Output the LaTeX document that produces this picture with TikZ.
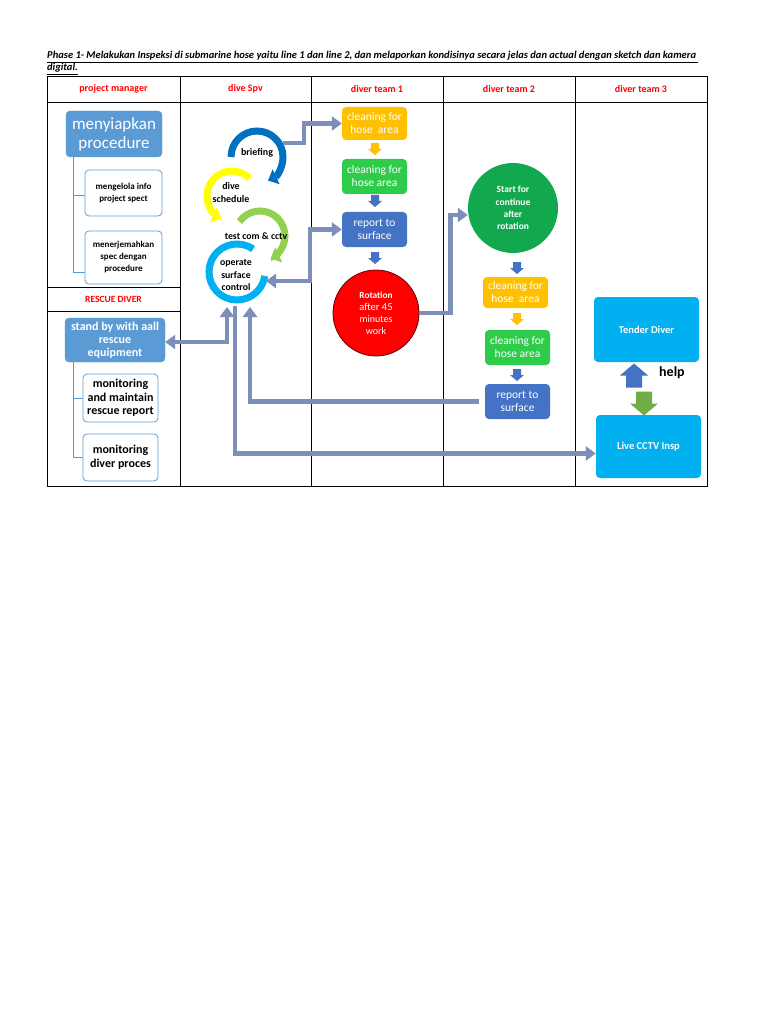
\documentclass[tikz,border=0pt]{standalone}
\usepackage{fontspec}
\setmainfont{Carlito}
\usetikzlibrary{arrows.meta}
\definecolor{connC}{HTML}{7D8FB8}
\definecolor{smartBlue}{HTML}{5B9BD5}
\definecolor{boxOrange}{HTML}{FFC000}
\definecolor{boxGreen}{HTML}{2ECC4A}
\definecolor{boxBlue}{HTML}{4472C4}
\definecolor{circRed}{HTML}{FF0000}
\definecolor{circGreen}{HTML}{12A84E}
\definecolor{cyanBox}{HTML}{00B0F0}
\definecolor{arcBlue}{HTML}{0070C0}
\definecolor{arcYellow}{HTML}{FFFF00}
\definecolor{arcGreen}{HTML}{92D050}
\definecolor{arrGreen}{HTML}{70AD47}
\definecolor{headRed}{HTML}{FF0000}
\begin{document}
\begin{tikzpicture}[x=1pt,y=-1pt,
  tbl/.style={draw=black,line width=0.9pt},
  hdr/.style={text=headRed,font=\fontsize{10}{12}\selectfont\bfseries},
  rbox/.style={rounded corners=4pt,align=center,inner sep=1pt},
  mainbox/.style={rbox,fill=smartBlue,draw=smartBlue,text=white},
  subbox/.style={rbox,fill=white,draw=smartBlue,line width=0.8pt,text=black},
  flowbox/.style={rbox,text=white,minimum width=65pt,font=\fontsize{11.5}{13}\selectfont},
  bigbox/.style={rbox,fill=cyanBox,text=white,minimum width=105pt,font=\fontsize{10.5}{12}\selectfont\bfseries},
  tree/.style={draw=smartBlue,line width=0.8pt},
  ring/.style={line width=7pt},
  ringtip/.style={-{Triangle[width=16pt,length=9pt]}},
  conn/.style={draw=connC,line width=4.5pt},
  ctip/.style={-{Triangle[width=14pt,length=10pt]}},
  ctip2/.style={{Triangle[width=14pt,length=10pt]}-{Triangle[width=14pt,length=10pt]}},
  lbl/.style={align=center,inner sep=0pt},
  pics/downarrow/.style={code={\fill[#1] (-4,-6) -- (4,-6) -- (4,0) -- (7,0) -- (0,6) -- (-7,0) -- (-4,0) -- cycle;}}
]
\useasboundingbox[fill=white] (0,0) rectangle (768,1024);

% title
\node[anchor=west,inner sep=0pt,font=\fontsize{10.5}{12}\selectfont\bfseries\itshape] (title1) at (47,57)
  {\underline{Phase 1- Melakukan Inspeksi di submarine hose yaitu line 1 dan line 2, dan melaporkan kondisinya secara jelas dan actual dengan sketch dan kamera\ }};
\node[anchor=west,inner sep=0pt,font=\fontsize{10.5}{12}\selectfont\bfseries\itshape] (title2) at (47,69)
  {\underline{digital.}};

% table
\draw[tbl] (47,76) rectangle (707,486);
\draw[tbl] (47,102) -- (707,102);
\foreach \x in {180,311,443,575} \draw[tbl] (\x,76) -- (\x,486);
\draw[tbl] (47,287) -- (180,287);
\draw[tbl] (47,311) -- (180,311);

\node[hdr] (h1) at (113.5,89) {project manager};
\node[hdr] (h2) at (245.5,89) {dive Spv};
\node[hdr] (h3) at (377,89) {diver team 1};
\node[hdr] (h4) at (509,89) {diver team 2};
\node[hdr] (h5) at (641,89) {diver team 3};
\node[hdr,font=\fontsize{9.5}{11}\selectfont\bfseries] (h6) at (113.5,299) {RESCUE DIVER};

% project manager column
\node[mainbox,minimum width=96pt,minimum height=46pt,font=\fontsize{17}{19}\selectfont] (prep) at (114,134) {menyiapkan\\procedure};
\node[subbox,minimum width=77pt,minimum height=46pt,font=\fontsize{9}{12}\selectfont\bfseries] (info) at (123.5,193) {mengelola info\\project spect};
\node[subbox,minimum width=77pt,minimum height=53pt,font=\fontsize{9}{12}\selectfont\bfseries] (spec) at (123.5,257.5) {menerjemahkan\\spec dengan\\procedure};
\draw[tree] (73,157) -- (73,272);
\draw[tree] (73,195) -- (info.west |- 73,195);
\draw[tree] (73,272) -- (spec.west |- 73,272);

% rescue diver
\node[mainbox,minimum width=100pt,minimum height=44pt,font=\fontsize{12}{13}\selectfont\bfseries] (standby) at (115,340) {stand by with aall\\rescue\\equipment};
\node[subbox,minimum width=75pt,minimum height=48pt,font=\fontsize{12}{13.5}\selectfont\bfseries] (mon1) at (120.5,398) {monitoring\\and maintain\\rescue report};
\node[subbox,minimum width=75pt,minimum height=47pt,font=\fontsize{12}{14}\selectfont\bfseries] (mon2) at (120.5,457.5) {monitoring\\diver proces};
\draw[tree] (73,362) -- (73,457);
\draw[tree] (73,398) -- (mon1.west |- 73,398);
\draw[tree] (73,457) -- (mon2.west |- 73,457);

% dive spv rings
\draw[ring,arcBlue,ringtip] (257,157) ++(180:26) arc (180:425:26);
\draw[ring,arcYellow,ringtip] (232,196) ++(-45:25) arc (-45:-245:25);
\draw[ring,arcGreen,ringtip] (260,236) ++(215:25) arc (215:425:25);
\draw[ring,cyanBox] (237,272) ++(-55:28) arc (-55:-352:28);
\node[lbl,font=\fontsize{10}{11}\selectfont\bfseries] (brief) at (257,153) {briefing};
\node[lbl,font=\fontsize{10}{13}\selectfont\bfseries] (sched) at (231,193) {dive\\schedule};
\node[lbl,font=\fontsize{9.8}{11}\selectfont\bfseries] (test) at (256,236) {test com \& cctv};
\node[lbl,font=\fontsize{9.8}{12.5}\selectfont\bfseries] (oper) at (236,275) {operate\\surface\\control};
\coordinate (bOut) at (283,143);
\coordinate (opIn) at (266,281);
\coordinate (opB1) at (227,307);
\coordinate (opB3) at (235,306);
\coordinate (opB2) at (250,307);

% diver team 1
\node[flowbox,fill=boxOrange,minimum height=33pt] (clean1) at (374.5,123.5) {cleaning for\\hose\ \ area};
\node[flowbox,fill=boxGreen,minimum height=35pt] (clean2) at (374.5,176.5) {cleaning for\\hose area};
\node[flowbox,fill=boxBlue,minimum height=35pt] (report1) at (374.5,229.5) {report to\\surface};
\node[circle,fill=circRed,draw=black!60!red,line width=0.8pt,minimum size=86pt,align=center,text=white,inner sep=0pt] (rot) at (376,313)
  {\fontsize{9.3}{12}\selectfont\bfseries Rotation\\\fontsize{10.5}{12}\selectfont after 45\\minutes\\work};
\path (375,149) pic {downarrow=boxOrange};
\path (375,201) pic {downarrow=boxBlue};
\path (375,258) pic {downarrow=boxBlue};

% diver team 2
\node[circle,fill=circGreen,minimum size=90pt,align=center,text=white,inner sep=0pt,font=\fontsize{9.5}{12.3}\selectfont\bfseries] (start) at (513,208) {Start for\\continue\\after\\rotation};
\node[flowbox,fill=boxOrange,minimum height=31pt] (clean3) at (515.5,292.5) {cleaning for\\hose\ \ area};
\node[flowbox,fill=boxGreen,minimum height=35pt] (clean4) at (517.5,347.5) {cleaning for\\hose area};
\node[flowbox,fill=boxBlue,minimum height=35pt] (report2) at (517.5,401.5) {report to\\surface};
\path (517,268) pic {downarrow=boxBlue};
\path (517,319) pic {downarrow=boxOrange};
\path (517,375) pic {downarrow=boxBlue};

% diver team 3
\node[bigbox,minimum height=65pt] (tender) at (646.5,329.5) {Tender Diver};
\node[bigbox,minimum height=63pt] (live) at (648.5,446.5) {Live CCTV Insp};
\path (634,375.5) pic[scale=2,rotate=180] {downarrow=boxBlue};
\path (644,403.5) pic[scale=2] {downarrow=arrGreen};
\node[anchor=west,inner sep=0pt,font=\fontsize{14}{16}\selectfont\bfseries] (help) at (659,373) {help};

% connectors
\draw[conn,ctip] (bOut) -- ++(21,0) |- (clean1.west);
\draw[conn,ctip2] (opIn) -- ++(44,0) |- (report1.west);
\draw[conn,ctip] (rot.east) -- ++(31,0) |- ([yshift=-7pt]start.west);
\draw[conn,ctip] ([xshift=-6pt]report2.west) -| (opB2);
\draw[conn,ctip] (opB3) |- ([yshift=-7pt]live.west);
\draw[conn,ctip2] (opB1) |- ([yshift=-2pt]standby.east);
\end{tikzpicture}
\end{document}
